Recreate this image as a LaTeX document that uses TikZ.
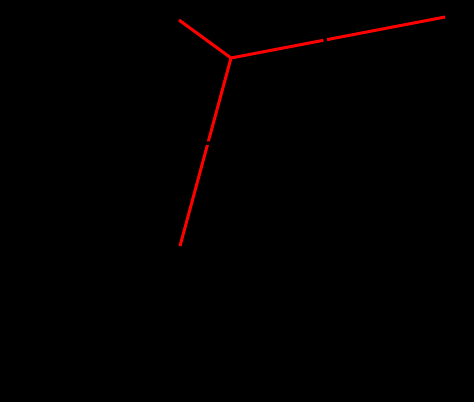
\documentclass[tikz,border=0pt]{standalone}
\usetikzlibrary{calc}
\begin{document}
\begin{tikzpicture}[x=1pt, y=-1pt,
    edge/.style={red, line width=3pt},
    gap/.style={black, line width=3.5pt}]
            \fill[black] (0,0) rectangle (474,402);
            \useasboundingbox (0,0) rectangle (474,402);
            \coordinate (O) at (231,58);
            \coordinate (A) at (179,20);
            \coordinate (B) at (445,17);
            \coordinate (C) at (180,246);
            \foreach \e in {A,B,C} {
                \draw[edge] (O) -- (\e);
            }
            % crossings hiding part of the edges
            \draw[gap] ($(O)!0.44!(B)+(-1,-6)$) -- ++(2,12);
            \draw[gap] ($(O)!0.45!(C)+(-6,0)$) -- ++(12,1);
        \end{tikzpicture}
\end{document}
